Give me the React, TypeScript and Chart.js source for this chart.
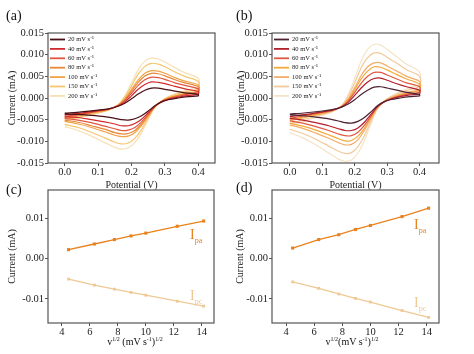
import React, { useEffect, useRef } from "react";
import { Chart, registerables } from "chart.js";

Chart.register(...registerables);

const SERIF = "'Liberation Serif', 'Times New Roman', serif";

// ---------- data ----------
// potentials of the CV sweep: forward 0 -> 0.4 V, then reverse 0.4 -> 0 V
const potentials = [
  0, 0.05, 0.1, 0.13, 0.16, 0.18, 0.2, 0.22, 0.24, 0.26, 0.28, 0.3, 0.33, 0.36, 0.4,
  0.4, 0.37, 0.34, 0.31, 0.29, 0.27, 0.25, 0.23, 0.21, 0.19, 0.17, 0.15, 0.12, 0.08, 0.04, 0,
];

const rateLabels = ["20 mV s⁻¹", "40 mV s⁻¹", "60 mV s⁻¹", "80 mV s⁻¹", "100 mV s⁻¹", "150 mV s⁻¹", "200 mV s⁻¹"];

// panel (a) currents (mA)
const a20 = [-0.0035, -0.0032, -0.0028, -0.0025, -0.0019, -0.0012, -0.0002, 0.0009, 0.0018, 0.0023, 0.0023, 0.0020, 0.0016, 0.0012, 0.0008,
  0.0005, 0.0003, 0.0000, -0.0004, -0.0009, -0.0018, -0.0030, -0.0041, -0.0048, -0.0051, -0.0050, -0.0047, -0.0043, -0.0040, -0.0038, -0.0037];
const a40 = [-0.0039, -0.0035, -0.0029, -0.0026, -0.0018, -0.0009, 0.0005, 0.0020, 0.0031, 0.0037, 0.0036, 0.0033, 0.0027, 0.0021, 0.0015,
  0.0009, 0.0006, 0.0002, -0.0003, -0.0009, -0.0019, -0.0034, -0.0049, -0.0059, -0.0064, -0.0064, -0.0060, -0.0055, -0.0050, -0.0045, -0.0043];
const a60 = [-0.0042, -0.0037, -0.0030, -0.0026, -0.0018, -0.0006, 0.0011, 0.0029, 0.0042, 0.0048, 0.0047, 0.0043, 0.0035, 0.0029, 0.0021,
  0.0012, 0.0009, 0.0004, -0.0002, -0.0008, -0.0019, -0.0037, -0.0055, -0.0068, -0.0074, -0.0075, -0.0071, -0.0065, -0.0057, -0.0051, -0.0047];
const a80 = [-0.0045, -0.0038, -0.0031, -0.0027, -0.0017, -0.0004, 0.0016, 0.0036, 0.0051, 0.0057, 0.0056, 0.0051, 0.0042, 0.0035, 0.0026,
  0.0015, 0.0011, 0.0006, -0.0001, -0.0008, -0.0020, -0.0040, -0.0060, -0.0075, -0.0082, -0.0083, -0.0080, -0.0072, -0.0064, -0.0056, -0.0051];
const a100 = [-0.0047, -0.0040, -0.0032, -0.0027, -0.0017, -0.0002, 0.0020, 0.0042, 0.0057, 0.0063, 0.0062, 0.0057, 0.0047, 0.0039, 0.0030,
  0.0017, 0.0012, 0.0007, 0.0000, -0.0008, -0.0020, -0.0042, -0.0064, -0.0080, -0.0088, -0.0089, -0.0086, -0.0078, -0.0068, -0.0060, -0.0054];
const a150 = [-0.0051, -0.0043, -0.0034, -0.0028, -0.0016, 0.0002, 0.0028, 0.0055, 0.0073, 0.0080, 0.0078, 0.0072, 0.0060, 0.0050, 0.0038,
  0.0021, 0.0016, 0.0010, 0.0002, -0.0007, -0.0021, -0.0046, -0.0073, -0.0093, -0.0104, -0.0106, -0.0102, -0.0092, -0.0079, -0.0068, -0.0061];
const a200 = [-0.0055, -0.0045, -0.0035, -0.0028, -0.0015, 0.0005, 0.0035, 0.0065, 0.0085, 0.0092, 0.0090, 0.0083, 0.0070, 0.0058, 0.0045,
  0.0025, 0.0019, 0.0012, 0.0003, -0.0007, -0.0022, -0.0050, -0.0080, -0.0103, -0.0115, -0.0118, -0.0114, -0.0103, -0.0088, -0.0075, -0.0066];

// panel (b) currents (mA)
const b20 = [-0.0037, -0.0034, -0.0030, -0.0027, -0.0021, -0.0014, -0.0004, 0.0008, 0.0018, 0.0025, 0.0026, 0.0023, 0.0018, 0.0013, 0.0008,
  0.0005, 0.0003, 0.0000, -0.0004, -0.0009, -0.0018, -0.0032, -0.0045, -0.0054, -0.0058, -0.0057, -0.0053, -0.0048, -0.0044, -0.0041, -0.0039];
const b40 = [-0.0043, -0.0038, -0.0032, -0.0028, -0.0020, -0.0010, 0.0006, 0.0023, 0.0037, 0.0045, 0.0046, 0.0041, 0.0033, 0.0026, 0.0018,
  0.0010, 0.0007, 0.0003, -0.0003, -0.0009, -0.0020, -0.0038, -0.0056, -0.0069, -0.0075, -0.0075, -0.0071, -0.0064, -0.0057, -0.0051, -0.0047];
const b60 = [-0.0047, -0.0040, -0.0033, -0.0029, -0.0020, -0.0007, 0.0013, 0.0034, 0.0050, 0.0059, 0.0059, 0.0053, 0.0044, 0.0035, 0.0026,
  0.0014, 0.0010, 0.0005, -0.0002, -0.0009, -0.0021, -0.0042, -0.0063, -0.0079, -0.0087, -0.0087, -0.0083, -0.0075, -0.0066, -0.0058, -0.0053];
const b80 = [-0.0050, -0.0043, -0.0035, -0.0029, -0.0019, -0.0004, 0.0019, 0.0044, 0.0062, 0.0072, 0.0071, 0.0065, 0.0054, 0.0044, 0.0032,
  0.0018, 0.0013, 0.0007, -0.0001, -0.0009, -0.0022, -0.0045, -0.0070, -0.0088, -0.0098, -0.0099, -0.0094, -0.0085, -0.0074, -0.0065, -0.0058];
const b100 = [-0.0053, -0.0044, -0.0036, -0.0030, -0.0019, -0.0002, 0.0024, 0.0052, 0.0072, 0.0081, 0.0081, 0.0074, 0.0062, 0.0050, 0.0038,
  0.0020, 0.0015, 0.0009, 0.0000, -0.0008, -0.0023, -0.0048, -0.0075, -0.0096, -0.0107, -0.0108, -0.0103, -0.0093, -0.0081, -0.0070, -0.0062];
const b150 = [-0.0059, -0.0048, -0.0038, -0.0031, -0.0018, 0.0004, 0.0035, 0.0070, 0.0093, 0.0104, 0.0103, 0.0094, 0.0080, 0.0065, 0.0050,
  0.0027, 0.0020, 0.0012, 0.0002, -0.0008, -0.0024, -0.0054, -0.0087, -0.0112, -0.0126, -0.0128, -0.0123, -0.0111, -0.0095, -0.0082, -0.0072];
const b200 = [-0.0065, -0.0052, -0.0040, -0.0032, -0.0017, 0.0008, 0.0045, 0.0085, 0.0112, 0.0124, 0.0122, 0.0112, 0.0095, 0.0078, 0.0060,
  0.0032, 0.0024, 0.0015, 0.0003, -0.0008, -0.0026, -0.0060, -0.0098, -0.0127, -0.0143, -0.0146, -0.0141, -0.0127, -0.0108, -0.0092, -0.0080];

// panels (c), (d): peak currents vs square root of scan rate
const sqrtRate = [4.47, 6.32, 7.75, 8.94, 10.0, 12.25, 14.14];
const cIpa = [0.0022, 0.0036, 0.0047, 0.0056, 0.0063, 0.0080, 0.0093];
const cIpc = [-0.0051, -0.0066, -0.0076, -0.0084, -0.0091, -0.0106, -0.0118];
const dIpa = [0.0026, 0.0047, 0.0059, 0.0072, 0.0082, 0.0104, 0.0125];
const dIpc = [-0.0058, -0.0074, -0.0088, -0.0099, -0.0108, -0.0129, -0.0146];

// tick values
const cvXTicks = [0, 0.1, 0.2, 0.3, 0.4];
const cvYTicks = [-0.015, -0.01, -0.005, 0, 0.005, 0.01, 0.015];
const rootXTicks = [4, 6, 8, 10, 12, 14];
const peakYTicks = [-0.01, 0, 0.01];

const colorsA = ["#4a1014", "#d02a2e", "#e2563e", "#e8893a", "#f0a348", "#f5c66e", "#f7e0b4"];
const colorsB = ["#4e2232", "#b41f2c", "#e05a42", "#f2aa3a", "#f2ad6a", "#f2c99c", "#f5e3c6"];
const ipaColor = "#e8821e";
const ipcColor = "#efc994";

// ---------- helpers ----------
const framePlugin = {
  id: "frame",
  afterDraw(chart: any) {
    const { ctx, chartArea: a } = chart;
    ctx.save();
    ctx.strokeStyle = "#555";
    ctx.lineWidth = 1.2;
    ctx.strokeRect(a.left, a.top, a.right - a.left, a.bottom - a.top);
    ctx.restore();
  },
};

// legend drawn inside the plot's top-left corner from the datasets
const insideLegendPlugin = {
  id: "insideLegend",
  beforeDatasetsDraw(chart: any) {
    const { ctx, chartArea: a } = chart;
    ctx.save();
    chart.data.datasets.forEach((ds: any, i: number) => {
      const y = a.top + 6.5 + i * 9.4;
      ctx.strokeStyle = ds.borderColor;
      ctx.lineWidth = 1.8;
      ctx.beginPath();
      ctx.moveTo(a.left + 2, y);
      ctx.lineTo(a.left + 17, y);
      ctx.stroke();
      ctx.fillStyle = "#222";
      ctx.font = `6.5px ${SERIF}`;
      ctx.textBaseline = "middle";
      ctx.textAlign = "left";
      ctx.fillText(ds.label, a.left + 20, y);
    });
    ctx.restore();
  },
};

function fixedTicks(values: number[]) {
  return (s: any) => {
    s.ticks = values.map((v) => ({ value: v }));
  };
}

function xAxis(min: number, max: number, ticks: number[], decimals: number, height: number, title?: string) {
  return {
    type: "linear",
    min,
    max,
    afterBuildTicks: fixedTicks(ticks),
    afterFit: (s: any) => {
      s.height = height;
    },
    ticks: {
      font: { family: SERIF, size: 10.5 },
      color: "#222",
      padding: 0,
      maxRotation: 0,
      autoSkip: false,
      callback: (v: any) => Number(v).toFixed(decimals),
    },
    grid: { drawOnChartArea: false, tickLength: 3, color: "#555" },
    border: { display: false },
    title: {
      display: !!title,
      text: title || "",
      font: { family: SERIF, size: 10 },
      color: "#222",
      padding: 0,
    },
  };
}

function yAxis(min: number, max: number, ticks: number[], decimals: number, width: number, titlePad: number) {
  return {
    type: "linear",
    min,
    max,
    afterBuildTicks: fixedTicks(ticks),
    afterFit: (s: any) => {
      s.width = width;
    },
    ticks: {
      font: { family: SERIF, size: 10.5 },
      color: "#222",
      padding: 1,
      autoSkip: false,
      callback: (v: any) => Number(v).toFixed(decimals),
    },
    grid: { drawOnChartArea: false, tickLength: 3, color: "#555" },
    border: { display: false },
    title: {
      display: true,
      text: "Current (mA)",
      font: { family: SERIF, size: 10 },
      color: "#222",
      padding: { top: titlePad, bottom: 0 },
    },
  };
}

function cvConfig(curves: number[][], colors: string[], xMin: number, xMax: number, yWidth: number, rightPad: number, titlePad: number) {
  return {
    type: "scatter",
    data: {
      datasets: curves.map((c, i) => ({
        label: rateLabels[i],
        data: potentials.map((v, j) => ({ x: v, y: c[j] })),
        showLine: true,
        borderColor: colors[i],
        backgroundColor: colors[i],
        borderWidth: 1.2,
        pointRadius: 0,
        tension: 0.3,
        fill: false,
      })),
    },
    options: {
      responsive: false,
      animation: false,
      events: [],
      layout: { padding: { top: 33, right: rightPad, left: 0, bottom: 0 } },
      plugins: {
        legend: { display: false },
        tooltip: { enabled: false },
      },
      scales: {
        x: xAxis(xMin, xMax, cvXTicks, 1, 28, "Potential (V)"),
        y: yAxis(-0.015, 0.015, cvYTicks, 3, yWidth, titlePad),
      },
    },
    plugins: [insideLegendPlugin, framePlugin],
  };
}

function peakConfig(ipa: number[], ipc: number[], yWidth: number, rightPad: number, titlePad: number) {
  const ds = (label: string, vals: number[], color: string, r: number) => ({
    label,
    data: sqrtRate.map((x, i) => ({ x, y: vals[i] })),
    showLine: true,
    borderColor: color,
    backgroundColor: color,
    borderWidth: 1.3,
    pointStyle: "rect",
    pointRadius: r,
    pointBorderWidth: 0,
    tension: 0,
  });
  return {
    type: "scatter",
    data: { datasets: [ds("Ipa", ipa, ipaColor, 2.2), ds("Ipc", ipc, ipcColor, 2)] },
    options: {
      responsive: false,
      animation: false,
      events: [],
      layout: { padding: { top: 13, right: rightPad, left: 0, bottom: 0 } },
      plugins: { legend: { display: false }, tooltip: { enabled: false } },
      scales: {
        x: xAxis(3, 14.88, rootXTicks, 0, 31),
        y: yAxis(-0.016, 0.017, peakYTicks, 2, yWidth, titlePad),
      },
    },
    plugins: [framePlugin],
  };
}

function ChartCanvas({ left, top, width, height, make }: { left: number; top: number; width: number; height: number; make: () => any }) {
  const ref = useRef<HTMLCanvasElement | null>(null);
  useEffect(() => {
    if (!ref.current) return;
    const chart = new Chart(ref.current, make());
    return () => chart.destroy();
  }, []);
  return (
    <canvas
      ref={ref}
      width={width}
      height={height}
      style={{ position: "absolute", left, top, width, height, display: "block" }}
    />
  );
}

const txt: React.CSSProperties = {
  position: "absolute",
  fontFamily: SERIF,
  color: "#111",
  lineHeight: 1,
  whiteSpace: "nowrap",
};

const supStyle: React.CSSProperties = { fontSize: 6, verticalAlign: 4, lineHeight: 0 };
const subStyle: React.CSSProperties = { fontSize: 8, verticalAlign: -4, lineHeight: 0 };

const panelLabels = ["(a)", "(b)", "(c)", "(d)"];

export default function App() {
  return (
    <div style={{ position: "absolute", left: 0, top: 0, width: 474, height: 354, background: "#fff", overflow: "hidden" }}>
      <ChartCanvas left={0} top={0} width={237} height={191}
        make={() => cvConfig([a20, a40, a60, a80, a100, a150, a200], colorsA, -0.05, 0.45, 48, 22, 6)} />
      <ChartCanvas left={230} top={0} width={244} height={191}
        make={() => cvConfig([b20, b40, b60, b80, b100, b150, b200], colorsB, -0.055, 0.46, 42, 35, 5)} />
      <ChartCanvas left={0} top={177} width={232} height={177}
        make={() => peakConfig(cIpa, cIpc, 48, 18, 6)} />
      <ChartCanvas left={230} top={177} width={244} height={177}
        make={() => peakConfig(dIpa, dIpc, 42, 35, 4)} />

      <div style={{ ...txt, left: 6, top: 9, fontSize: 14 }}>{panelLabels[0]}</div>
      <div style={{ ...txt, left: 236, top: 9, fontSize: 14 }}>{panelLabels[1]}</div>
      <div style={{ ...txt, left: 6, top: 183, fontSize: 14 }}>{panelLabels[2]}</div>
      <div style={{ ...txt, left: 236, top: 181, fontSize: 14 }}>{panelLabels[3]}</div>

      <div style={{ ...txt, left: 75, top: 337, width: 120, textAlign: "center", fontSize: 10 }}>
        v<sup style={supStyle}>1/2</sup> (mV s<sup style={supStyle}>-1</sup>)<sup style={supStyle}>1/2</sup>
      </div>
      <div style={{ ...txt, left: 292, top: 337, width: 120, textAlign: "center", fontSize: 10 }}>
        v<sup style={supStyle}>1/2</sup>(mV s<sup style={supStyle}>-1</sup>)<sup style={supStyle}>1/2</sup>
      </div>

      <div style={{ ...txt, left: 190, top: 228, fontSize: 14, color: ipaColor }}>
        I<sub style={subStyle}>pa</sub>
      </div>
      <div style={{ ...txt, left: 190, top: 289, fontSize: 14, color: ipcColor }}>
        I<sub style={subStyle}>pc</sub>
      </div>
      <div style={{ ...txt, left: 414, top: 218, fontSize: 14, color: ipaColor }}>
        I<sub style={subStyle}>pa</sub>
      </div>
      <div style={{ ...txt, left: 414, top: 296, fontSize: 14, color: ipcColor }}>
        I<sub style={subStyle}>pc</sub>
      </div>
    </div>
  );
}
